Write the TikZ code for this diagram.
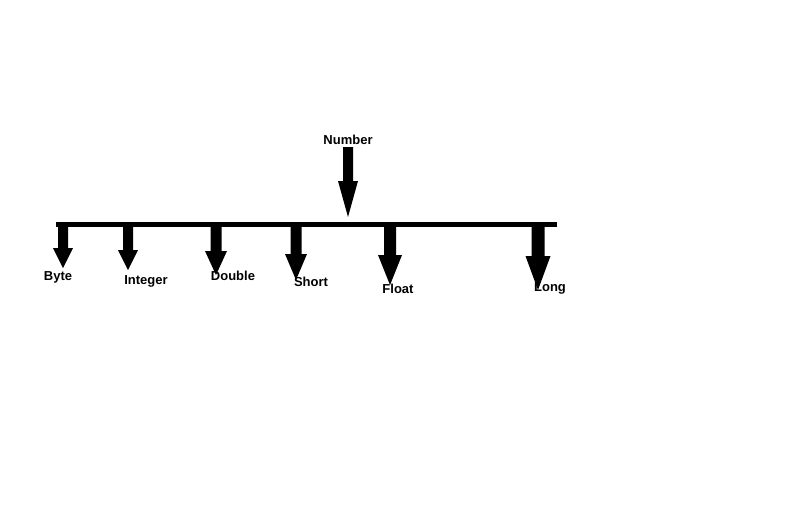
\documentclass[tikz,border=0pt]{standalone}
\usepackage{fontspec}
\setmainfont{Liberation Sans}
\newcommand{\fatarr}[6]{% x, ytop, ybot, shaft half, head half, head length
  \fill[black] (#1-#4,#2) -- (#1+#4,#2) -- (#1+#4,#3-#6) -- (#1+#5,#3-#6) -- (#1,#3) -- (#1-#5,#3-#6) -- (#1-#4,#3-#6) -- cycle;}
\begin{document}
\begin{tikzpicture}[x=1pt,y=-1pt,lbl/.style={font=\bfseries\fontsize{13}{15}\selectfont,inner sep=0pt}]
\useasboundingbox[fill=white] (0,0) rectangle (809,509);
\draw[line width=5pt] (56,224) -- (557,224);
\fatarr{348}{147}{217}{5}{10}{36}
\fatarr{63}{226}{268}{5}{10}{20}
\fatarr{128}{226}{270}{5}{10}{20}
\fatarr{216}{226}{275}{5.5}{11}{24}
\fatarr{296}{226}{280}{5.5}{11}{26}
\fatarr{390}{226}{285}{6}{12}{30}
\fatarr{538}{226}{290}{6.5}{12.5}{34}
\node[lbl] (number) at (348,140) {Number};
\node[lbl] (byte) at (58,277) {Byte};
\node[lbl] (integer) at (146,281) {Integer};
\node[lbl] (double) at (233,276) {Double};
\node[lbl] (short) at (311,282) {Short};
\node[lbl] (float) at (398,289) {Float};
\node[lbl] (long) at (550,288) {Long};
\end{tikzpicture}
\end{document}
